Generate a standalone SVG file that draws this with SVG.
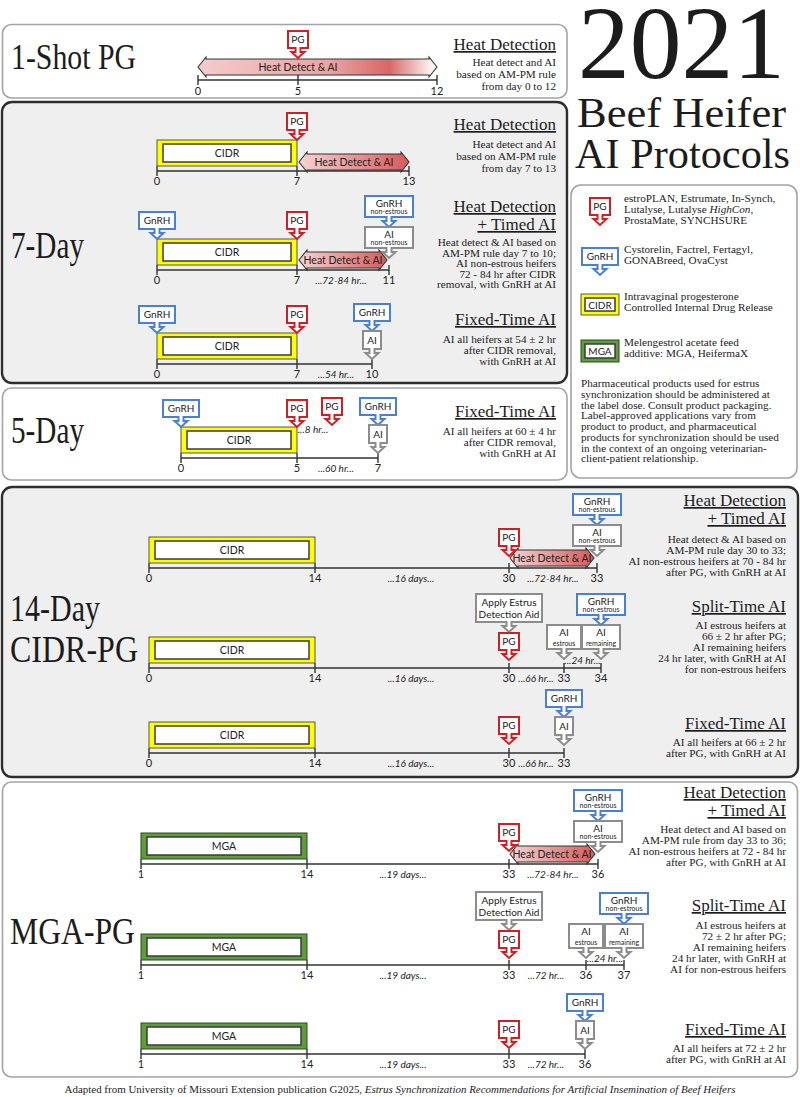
<svg xmlns="http://www.w3.org/2000/svg" xmlns:xlink="http://www.w3.org/1999/xlink" width="800" height="1097" viewBox="0 0 800 1097">
<style>
.ser{font-family:"Liberation Serif","Times New Roman",serif;fill:#1c1c1c}
.title{font-size:38px}
.hd{font-size:17px;text-decoration:underline;text-anchor:end}
.bd{font-size:11.2px;text-anchor:end}
.lg{font-size:11.2px}
.sans{font-family:Lato,"Open Sans","Liberation Sans",sans-serif;fill:#222}
.lbl{font-size:11px;text-anchor:middle}
.it{font-style:italic;font-size:10px;text-anchor:middle}
.mk{font-size:10px;text-anchor:middle}
.sm{font-size:7px;text-anchor:middle}
.bt{font-size:10.5px;text-anchor:middle}
.pl{fill:#fff;stroke:#a4a4a4;stroke-width:1.6}
.pd{fill:#efefef;stroke:#2e2e2e;stroke-width:2.4}
.axis{stroke:#333;stroke-width:1.4;fill:none}
.co{fill:#ffff00;stroke:#555;stroke-width:1}
.mo{fill:#5e9c3c;stroke:#2c4a1c;stroke-width:1}
.in{fill:#fff;stroke:#3a3a3a;stroke-width:1.5}
.pgc{fill:#fff;stroke:#cf1f26;stroke-width:2}
.gnc{fill:#fff;stroke:#4a7fd6;stroke-width:2}
.aic{fill:#fff;stroke:#8c8c8c;stroke-width:2}
.band{stroke:#333;stroke-width:1.1;fill:url(#g-heat)}
</style>
<defs>
<linearGradient id="g-heat" x1="0" y1="0" x2="1" y2="0"><stop offset="0" stop-color="#f6d3d3"/><stop offset="1" stop-color="#d65a5a"/></linearGradient>
<linearGradient id="g-heat1" x1="0" y1="0" x2="1" y2="0"><stop offset="0" stop-color="#f4cccc"/><stop offset="0.55" stop-color="#eaa3a3"/><stop offset="0.8" stop-color="#d86767"/><stop offset="0.97" stop-color="#fbefef"/></linearGradient>
<g id="m-pg"><path class="pgc" d="M-10,-27H10V-10H2.5V-6H6.5L0,0L-6.5,-6H-2.5V-10H-10Z"/><text class="sans mk" y="-15">PG</text></g>
<g id="m-gnrh"><path class="gnc" d="M-18,-27H18V-10H2.5V-6H6.5L0,0L-6.5,-6H-2.5V-10H-18Z"/><text class="sans mk" y="-15">GnRH</text></g>
<g id="m-gnrh-ne"><path class="gnc" d="M-24,-31H24V-10H2.5V-6H6.5L0,0L-6.5,-6H-2.5V-10H-24Z"/><text class="sans mk" y="-20.5">GnRH</text><text class="sans sm" y="-13">non-estrous</text></g>
<g id="m-ai"><path class="aic" d="M-9,-28H9V-10H2.5V-6H6.5L0,0L-6.5,-6H-2.5V-10H-9Z"/><text class="sans mk" y="-15.5">AI</text></g>
<g id="m-ai-ne"><path class="aic" d="M-24,-31H24V-10H2.5V-6H6.5L0,0L-6.5,-6H-2.5V-10H-24Z"/><text class="sans mk" y="-20.5">AI</text><text class="sans sm" y="-13">non-estrous</text></g>
<g id="m-ai-es"><path class="aic" d="M-17,-34H17V-10H2.5V-6H6.5L0,0L-6.5,-6H-2.5V-10H-17Z"/><text class="sans mk" y="-23">AI</text><text class="sans sm" y="-13.5">estrous</text></g>
<g id="m-ai-rem"><path class="aic" d="M-19,-34H19V-10H2.5V-6H6.5L0,0L-6.5,-6H-2.5V-10H-19Z"/><text class="sans mk" y="-23">AI</text><text class="sans sm" y="-13.5">remaining</text></g>
<g id="m-aid"><path class="aic" d="M-33,-38H33V-10H2.5V-6H6.5L0,0L-6.5,-6H-2.5V-10H-33Z"/><text class="sans mk" y="-26">Apply Estrus</text><text class="sans mk" y="-14">Detection Aid</text></g>
</defs>

<!-- Panels -->
<g id="panels">
<rect class="pl" x="2.5" y="24.5" width="564.5" height="73.5" rx="9"/>
<rect class="pd" x="2" y="102" width="565" height="281" rx="10"/>
<rect class="pl" x="2.5" y="388" width="564.5" height="92" rx="9"/>
<rect class="pd" x="2" y="487" width="796" height="290" rx="10"/>
<rect class="pl" x="2.5" y="782" width="795" height="295" rx="9"/>
<rect class="pl" x="571" y="185" width="226" height="293" rx="10"/>
</g>

<!-- Title -->
<g id="title" class="ser">
<text x="578" y="78" font-size="104" textLength="207" lengthAdjust="spacingAndGlyphs">2021</text>
<text x="577" y="127" font-size="43" textLength="209" lengthAdjust="spacingAndGlyphs">Beef Heifer</text>
<text x="575" y="168" font-size="43" textLength="215" lengthAdjust="spacingAndGlyphs">AI Protocols</text>
</g>

<!-- Protocol titles -->
<g id="protocol-titles" class="ser title">
<text x="11" y="69" font-size="36" textLength="125" lengthAdjust="spacingAndGlyphs">1-Shot PG</text>
<text x="11" y="258" textLength="73" lengthAdjust="spacingAndGlyphs">7-Day</text>
<text x="11" y="443" textLength="73" lengthAdjust="spacingAndGlyphs">5-Day</text>
<text x="10" y="621" textLength="90" lengthAdjust="spacingAndGlyphs">14-Day</text>
<text x="10" y="662" textLength="128" lengthAdjust="spacingAndGlyphs">CIDR-PG</text>
<text x="10" y="944" textLength="125" lengthAdjust="spacingAndGlyphs">MGA-PG</text>
</g>

<!-- Connectors: timelines -->
<g id="connectors">
<path class="axis" d="M198,80H437M198,75V85M298,75V85M437,75V85"/>
<path class="axis" d="M157,171H409M157,166V176M297,166V176M409,166V176"/>
<path class="axis" d="M157,270H389M157,265V275M297,265V275M389,265V275"/>
<path class="axis" d="M157,364H372M157,359V369M297,359V369M372,359V369"/>
<path class="axis" d="M181,458H378M181,453V463M297,453V463M378,453V463"/>
<path class="axis" d="M149,568H597M149,563V573M315,563V573M509,563V573M597,563V573"/>
<path class="axis" d="M149,668H601M149,663V673M315,663V673M509,663V673M564,663V673M601,663V673"/>
<path class="axis" d="M149,753H564M149,748V758M315,748V758M509,748V758M564,748V758"/>
<path class="axis" d="M141,864H598M141,859V869M307,859V869M509,859V869M598,859V869"/>
<path class="axis" d="M141,965H624M141,960V970M307,960V970M509,960V970M586,960V970M624,960V970"/>
<path class="axis" d="M141,1054H585M141,1049V1059M307,1049V1059M509,1049V1059M585,1049V1059"/>
</g>

<!-- Axis labels -->
<g id="axis-labels" class="sans">
<g class="lbl"><text x="198" y="95">0</text><text x="298" y="95">5</text><text x="437" y="95">12</text></g>
<g class="lbl"><text x="157" y="185">0</text><text x="297" y="185">7</text><text x="409" y="185">13</text></g>
<g class="lbl"><text x="157" y="284">0</text><text x="297" y="284">7</text><text x="389" y="284">11</text></g>
<text class="it" x="341" y="284">...72-84 hr...</text>
<g class="lbl"><text x="157" y="378">0</text><text x="297" y="378">7</text><text x="372" y="378">10</text></g>
<text class="it" x="336" y="378">...54 hr...</text>
<g class="lbl"><text x="181" y="472">0</text><text x="297" y="472">5</text><text x="378" y="472">7</text></g>
<text class="it" x="336" y="472">...60 hr...</text>
<text class="it" x="313" y="433" font-size="9.5">...8 hr...</text>
<g class="lbl"><text x="149" y="582">0</text><text x="315" y="582">14</text><text x="509" y="582">30</text><text x="597" y="582">33</text></g>
<text class="it" x="411" y="582">...16 days...</text><text class="it" x="553" y="582">...72-84 hr...</text>
<g class="lbl"><text x="149" y="682">0</text><text x="315" y="682">14</text><text x="509" y="682">30</text><text x="564" y="682">33</text><text x="601" y="682">34</text></g>
<text class="it" x="411" y="682">...16 days...</text><text class="it" x="536" y="682">...66 hr...</text>
<text class="it" x="582.5" y="664" font-size="8.5">...24 hr...</text>
<g class="lbl"><text x="149" y="767">0</text><text x="315" y="767">14</text><text x="509" y="767">30</text><text x="564" y="767">33</text></g>
<text class="it" x="411" y="767">...16 days...</text><text class="it" x="536" y="767">...66 hr...</text>
<g class="lbl"><text x="141" y="878">1</text><text x="307" y="878">14</text><text x="509" y="878">33</text><text x="598" y="878">36</text></g>
<text class="it" x="403" y="878">...19 days...</text><text class="it" x="553" y="878">...72-84 hr...</text>
<g class="lbl"><text x="141" y="979">1</text><text x="307" y="979">14</text><text x="509" y="979">33</text><text x="586" y="979">36</text><text x="624" y="979">37</text></g>
<text class="it" x="403" y="979">...19 days...</text><text class="it" x="546" y="979">...72 hr...</text>
<text class="it" x="605" y="962" font-size="8.5">...24 hr...</text>
<g class="lbl"><text x="141" y="1068">1</text><text x="307" y="1068">14</text><text x="509" y="1068">33</text><text x="585" y="1068">36</text></g>
<text class="it" x="403" y="1068">...19 days...</text><text class="it" x="546" y="1068">...72 hr...</text>
</g>

<!-- 1-Shot PG -->
<g id="n-1shot-heat">
<polygon points="198,67 206,57 206,59 429,59 429,57 437,67 429,77 429,75 206,75 206,77" stroke="#333" stroke-width="1.1" fill="url(#g-heat1)"/>
<text class="sans bt" x="298" y="71">Heat Detect &amp; AI</text>
</g>
<g id="n-1shot-pg"><use href="#m-pg" x="298" y="58"/></g>

<!-- 7-Day A -->
<g id="n-7a-cidr"><rect class="co" x="157" y="140" width="140" height="26"/><rect class="in" x="163" y="144" width="128" height="18"/><text class="sans bt" x="227" y="156.5">CIDR</text></g>
<g id="n-7a-heat"><polygon class="band" points="299,162 307,152 307,154 401,154 401,152 409,162 401,172 401,170 307,170 307,172"/><text class="sans bt" x="354" y="166">Heat Detect &amp; AI</text></g>
<g id="n-7a-pg"><use href="#m-pg" x="297" y="140"/></g>

<!-- 7-Day B -->
<g id="n-7b-cidr"><rect class="co" x="157" y="239" width="140" height="26"/><rect class="in" x="163" y="243" width="128" height="18"/><text class="sans bt" x="227" y="255.5">CIDR</text></g>
<g id="n-7b-heat"><polygon class="band" points="299,260 307,250 307,252 379,252 379,250 387,260 379,270 379,268 307,268 307,270"/><text class="sans bt" x="343" y="264" font-size="10">Heat Detect &amp; AI</text></g>
<g id="n-7b-gnrh"><use href="#m-gnrh" x="157" y="239"/></g>
<g id="n-7b-pg"><use href="#m-pg" x="297" y="239"/></g>
<g id="n-7b-gnrh-ne"><use href="#m-gnrh-ne" x="389" y="227"/></g>
<g id="n-7b-ai-ne"><use href="#m-ai-ne" x="389" y="258"/></g>

<!-- 7-Day C -->
<g id="n-7c-cidr"><rect class="co" x="157" y="333" width="140" height="26"/><rect class="in" x="163" y="337" width="128" height="18"/><text class="sans bt" x="227" y="349.5">CIDR</text></g>
<g id="n-7c-gnrh"><use href="#m-gnrh" x="157" y="333"/></g>
<g id="n-7c-pg"><use href="#m-pg" x="297" y="333"/></g>
<g id="n-7c-gnrh2"><use href="#m-gnrh" x="372" y="331"/></g>
<g id="n-7c-ai"><use href="#m-ai" x="372" y="359"/></g>

<!-- 5-Day -->
<g id="n-5d-cidr"><rect class="co" x="181" y="427" width="116" height="26"/><rect class="in" x="187" y="431" width="104" height="18"/><text class="sans bt" x="239" y="443.5">CIDR</text></g>
<g id="n-5d-gnrh"><use href="#m-gnrh" x="181" y="427"/></g>
<g id="n-5d-pg"><use href="#m-pg" x="297" y="427"/></g>
<g id="n-5d-pg2"><use href="#m-pg" x="332" y="425"/></g>
<g id="n-5d-gnrh2"><use href="#m-gnrh" x="378" y="425"/></g>
<g id="n-5d-ai"><use href="#m-ai" x="378" y="453"/></g>

<!-- 14-Day A -->
<g id="n-14a-cidr"><rect class="co" x="149" y="537" width="166" height="26"/><rect class="in" x="155" y="541" width="154" height="18"/><text class="sans bt" x="232" y="553.5">CIDR</text></g>
<g id="n-14a-heat"><polygon class="band" points="510,558 518,548 518,550 586,550 586,548 594,558 586,568 586,566 518,566 518,568"/><text class="sans bt" x="552" y="562" font-size="10">Heat Detect &amp; AI</text></g>
<g id="n-14a-pg"><use href="#m-pg" x="509" y="556"/></g>
<g id="n-14a-gnrh-ne"><use href="#m-gnrh-ne" x="597" y="525"/></g>
<g id="n-14a-ai-ne"><use href="#m-ai-ne" x="597" y="556"/></g>

<!-- 14-Day B -->
<g id="n-14b-cidr"><rect class="co" x="149" y="637" width="166" height="26"/><rect class="in" x="155" y="641" width="154" height="18"/><text class="sans bt" x="232" y="653.5">CIDR</text></g>
<g id="n-14b-aid"><use href="#m-aid" x="509" y="632"/></g>
<g id="n-14b-pg"><use href="#m-pg" x="509" y="660"/></g>
<g id="n-14b-ai-es"><use href="#m-ai-es" x="564" y="659"/></g>
<g id="n-14b-ai-rem"><use href="#m-ai-rem" x="601" y="659"/></g>
<g id="n-14b-gnrh-ne"><use href="#m-gnrh-ne" x="601" y="625"/></g>

<!-- 14-Day C -->
<g id="n-14c-cidr"><rect class="co" x="149" y="722" width="166" height="26"/><rect class="in" x="155" y="726" width="154" height="18"/><text class="sans bt" x="232" y="738.5">CIDR</text></g>
<g id="n-14c-pg"><use href="#m-pg" x="509" y="744"/></g>
<g id="n-14c-gnrh"><use href="#m-gnrh" x="564" y="717"/></g>
<g id="n-14c-ai"><use href="#m-ai" x="564" y="745"/></g>

<!-- MGA A -->
<g id="n-ma-mga"><rect class="mo" x="141" y="833" width="166" height="26"/><rect class="in" x="147" y="837" width="154" height="18"/><text class="sans bt" x="224" y="849.5">MGA</text></g>
<g id="n-ma-heat"><polygon class="band" points="510,854 518,844 518,846 587,846 587,844 595,854 587,864 587,862 518,862 518,864"/><text class="sans bt" x="552" y="858" font-size="10">Heat Detect &amp; AI</text></g>
<g id="n-ma-pg"><use href="#m-pg" x="509" y="851"/></g>
<g id="n-ma-gnrh-ne"><use href="#m-gnrh-ne" x="598" y="821"/></g>
<g id="n-ma-ai-ne"><use href="#m-ai-ne" x="598" y="852"/></g>

<!-- MGA B -->
<g id="n-mb-mga"><rect class="mo" x="141" y="934" width="166" height="26"/><rect class="in" x="147" y="938" width="154" height="18"/><text class="sans bt" x="224" y="950.5">MGA</text></g>
<g id="n-mb-aid"><use href="#m-aid" x="509" y="930"/></g>
<g id="n-mb-pg"><use href="#m-pg" x="509" y="958"/></g>
<g id="n-mb-ai-es"><use href="#m-ai-es" x="586" y="958"/></g>
<g id="n-mb-ai-rem"><use href="#m-ai-rem" x="624" y="958"/></g>
<g id="n-mb-gnrh-ne"><use href="#m-gnrh-ne" x="624" y="924"/></g>

<!-- MGA C -->
<g id="n-mc-mga"><rect class="mo" x="141" y="1023" width="166" height="26"/><rect class="in" x="147" y="1027" width="154" height="18"/><text class="sans bt" x="224" y="1039.5">MGA</text></g>
<g id="n-mc-pg"><use href="#m-pg" x="509" y="1048"/></g>
<g id="n-mc-gnrh"><use href="#m-gnrh" x="585" y="1021"/></g>
<g id="n-mc-ai"><use href="#m-ai" x="585" y="1049"/></g>

<!-- Descriptions -->
<g id="desc" class="ser">
<text class="hd" x="556" y="50">Heat Detection</text>
<g class="bd"><text x="556" y="66">Heat detect and AI</text><text x="556" y="78">based on AM-PM rule</text><text x="556" y="90">from day 0 to 12</text></g>

<text class="hd" x="556" y="130">Heat Detection</text>
<g class="bd"><text x="556" y="148">Heat detect and AI</text><text x="556" y="160">based on AM-PM rule</text><text x="556" y="172">from day 7 to 13</text></g>

<text class="hd" x="556" y="212">Heat Detection</text>
<text class="hd" x="556" y="230">+ Timed AI</text>
<g class="bd"><text x="556" y="246">Heat detect &amp; AI based on</text><text x="556" y="256.5">AM-PM rule day 7 to 10;</text><text x="556" y="267">AI non-estrous heifers</text><text x="556" y="277.5">72 - 84 hr after CIDR</text><text x="556" y="288">removal, with GnRH at AI</text></g>

<text class="hd" x="556" y="325">Fixed-Time AI</text>
<g class="bd"><text x="556" y="343">AI all heifers at 54 ± 2 hr</text><text x="556" y="354">after CIDR removal,</text><text x="556" y="365">with GnRH at AI</text></g>

<text class="hd" x="556" y="417">Fixed-Time AI</text>
<g class="bd"><text x="556" y="435">AI all heifers at 60 ± 4 hr</text><text x="556" y="446">after CIDR removal,</text><text x="556" y="457">with GnRH at AI</text></g>

<text class="hd" x="786" y="506">Heat Detection</text>
<text class="hd" x="786" y="524">+ Timed AI</text>
<g class="bd"><text x="786" y="543">Heat detect &amp; AI based on</text><text x="786" y="554">AM-PM rule day 30 to 33;</text><text x="786" y="565">AI non-estrous heifers at 70 - 84 hr</text><text x="786" y="576">after PG, with GnRH at AI</text></g>

<text class="hd" x="786" y="612">Split-Time AI</text>
<g class="bd"><text x="786" y="629">AI estrous heifers at</text><text x="786" y="640">66 ± 2 hr after PG;</text><text x="786" y="651">AI remaining heifers</text><text x="786" y="662">24 hr later, with GnRH at AI</text><text x="786" y="673">for non-estrous heifers</text></g>

<text class="hd" x="786" y="729">Fixed-Time AI</text>
<g class="bd"><text x="786" y="746">AI all heifers at 66 ± 2 hr</text><text x="786" y="757">after PG, with GnRH at AI</text></g>

<text class="hd" x="786" y="798">Heat Detection</text>
<text class="hd" x="786" y="816">+ Timed AI</text>
<g class="bd"><text x="786" y="833">Heat detect and AI based on</text><text x="786" y="844">AM-PM rule from day 33 to 36;</text><text x="786" y="855">AI non-estrous heifers at 72 - 84 hr</text><text x="786" y="866">after PG, with GnRH at AI</text></g>

<text class="hd" x="786" y="911">Split-Time AI</text>
<g class="bd"><text x="786" y="929">AI estrous heifers at</text><text x="786" y="940">72 ± 2 hr after PG;</text><text x="786" y="951">AI remaining heifers</text><text x="786" y="962">24 hr later, with GnRH at</text><text x="786" y="973">AI for non-estrous heifers</text></g>

<text class="hd" x="786" y="1035">Fixed-Time AI</text>
<g class="bd"><text x="786" y="1052">AI all heifers at 72 ± 2 hr</text><text x="786" y="1063">after PG, with GnRH at AI</text></g>
</g>

<!-- Legend -->
<g id="legend">
<g id="lg-pg"><use href="#m-pg" x="600" y="225"/></g>
<g id="lg-gnrh"><use href="#m-gnrh" x="600" y="275"/></g>
<g id="lg-cidr"><rect class="co" x="581" y="294" width="38" height="21"/><rect class="in" x="585" y="298" width="30" height="13"/><text class="sans mk" x="600" y="308.5">CIDR</text></g>
<g id="lg-mga"><rect class="mo" x="581" y="340" width="38" height="22"/><rect class="in" x="585" y="344" width="30" height="14"/><text class="sans mk" x="600" y="355">MGA</text></g>
<g class="ser lg">
<text x="624" y="202">estroPLAN, Estrumate, In-Synch,</text>
<text x="624" y="213">Lutalyse, Lutalyse <tspan font-style="italic">HighCon</tspan>,</text>
<text x="624" y="224">ProstaMate, SYNCHSURE</text>
<text x="624" y="253">Cystorelin, Factrel, Fertagyl,</text>
<text x="624" y="264">GONABreed, OvaCyst</text>
<text x="624" y="300">Intravaginal progesterone</text>
<text x="624" y="311">Controlled Internal Drug Release</text>
<text x="624" y="346">Melengestrol acetate feed</text>
<text x="624" y="357">additive: MGA, HeifermaX</text>
<text x="581" y="387">Pharmaceutical products used for estrus</text>
<text x="581" y="398">synchronization should be administered at</text>
<text x="581" y="408.5">the label dose. Consult product packaging.</text>
<text x="581" y="419">Label-approved applications vary from</text>
<text x="581" y="430">product to product, and pharmaceutical</text>
<text x="581" y="441">products for synchronization should be used</text>
<text x="581" y="451.5">in the context of an ongoing veterinarian-</text>
<text x="581" y="462">client-patient relationship.</text>
</g>
</g>

<!-- Footer -->
<g id="footer">
<text class="ser" x="400" y="1093" font-size="10.5" text-anchor="middle" textLength="671" lengthAdjust="spacingAndGlyphs">Adapted from University of Missouri Extension publication G2025, <tspan font-style="italic">Estrus Synchronization Recommendations for Artificial Insemination of Beef Heifers</tspan></text>
</g>
</svg>
